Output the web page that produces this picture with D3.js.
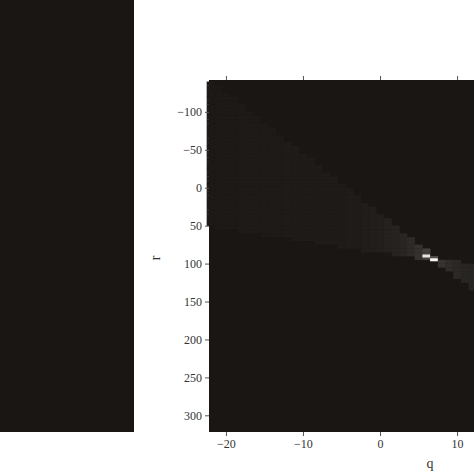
<!DOCTYPE html>
<html>
<head>
<meta charset="utf-8">
<script src="https://cdn.jsdelivr.net/npm/d3@7"></script>
<style>
  body { margin: 0; background: #fff; }
  svg text { font-family: 'Liberation Serif', 'DejaVu Serif', serif !important; }
</style>
</head>
<body>
<svg id="chart" width="474" height="474"></svg>
<script>
// columns of the q axis and the band each column lights up
const qCols = [-22,-21,-20,-19,-18,-17,-16,-15,-14,-13,-12,-11,-10,-9,-8,-7,-6,-5,-4,-3,-2,-1,0,1,2,3,4,5,6,7,8,9,10,11,12];
const bandTop = [-140,-132,-124,-116,-108,-100,-92,-84,-76,-68,-60,-52,-44,-36,-28,-20,-12,-4,4,12,20,28,36,44,52,60,68,76,84,91,96,98,99,101,102];
const bandBot = [50,52,53,55,56,58,59,61,62,64,65,67,68,70,71,73,74,76,78,79,81,82,84,85,87,88,90,91,93,95,101,109,117,125,133];
const bandVal = [3,3,3,3,4,4,4,4,4,4,5,5,5,5,5,6,6,6,7,7,8,9,10,12,14,17,22,30,45,60,32,24,20,17,15];
const spotQ = [6, 7];
const spotR = [88, 93];
const spotVal = [225, 245];
const xTicks = [-20, -10, 0, 10];
const yTicks = [-100, -50, 0, 50, 100, 150, 200, 250, 300];

const svg = d3.select("#chart");
const bg = "#191613";

// left panel
svg.append("rect").attr("x", 0).attr("y", 0).attr("width", 134).attr("height", 432).attr("fill", bg);

const x = d3.scaleLinear().domain([-22.2, 12.2]).range([209, 474]);
const y = d3.scaleLinear().domain([-142, 322]).range([80, 432]);
const color = d3.scaleLinear().domain([0, 255]).range([bg, "#ffffff"]);

const plot = svg.append("g");
plot.append("rect").attr("x", 209).attr("y", 80).attr("width", 265).attr("height", 352).attr("fill", bg);

const cells = [];
qCols.forEach((q, i) => {
  for (let r = -145; r < 322; r += 5) {
    if (r + 5 > bandTop[i] && r < bandBot[i]) cells.push({ q, r, v: bandVal[i] });
  }
});
plot.selectAll("rect.cell").data(cells).join("rect")
  .attr("class", "cell")
  .attr("x", d => x(d.q - 0.5))
  .attr("y", d => y(Math.max(d.r, -142)))
  .attr("width", x(1) - x(0) + 0.3)
  .attr("height", d => y(d.r + 5) - y(Math.max(d.r, -142)) + 0.3)
  .attr("fill", d => color(d.v));

plot.selectAll("rect.spot").data(spotQ).join("rect")
  .attr("class", "spot")
  .attr("x", d => x(d - 0.5))
  .attr("y", (d, i) => y(spotR[i]))
  .attr("width", x(1) - x(0))
  .attr("height", y(4) - y(0))
  .attr("fill", (d, i) => color(spotVal[i]));

const axisStyle = g => {
  g.select(".domain").remove();
  g.selectAll("line").attr("stroke", "#555");
  g.selectAll("text").attr("font-size", 12).attr("fill", "#333");
};

svg.append("g").attr("transform", "translate(0,432)")
  .call(d3.axisBottom(x).tickValues(xTicks).tickSize(4).tickFormat(d => d < 0 ? "\u2212" + (-d) : d))
  .call(axisStyle);
svg.append("g").attr("transform", "translate(0,80)")
  .call(d3.axisTop(x).tickValues(xTicks).tickSize(4).tickFormat(""))
  .call(axisStyle);
svg.append("g").attr("transform", "translate(209,0)")
  .call(d3.axisLeft(y).tickValues(yTicks).tickSize(4).tickFormat(d => d < 0 ? "\u2212" + (-d) : d))
  .call(axisStyle);

svg.append("text").attr("x", 430).attr("y", 468).attr("text-anchor", "middle")
  .attr("font-size", 14).attr("fill", "#333").text("q");
svg.append("text").attr("transform", "translate(160,258) rotate(-90)").attr("text-anchor", "middle")
  .attr("font-size", 14).attr("fill", "#333").text("r");
</script>
</body>
</html>
